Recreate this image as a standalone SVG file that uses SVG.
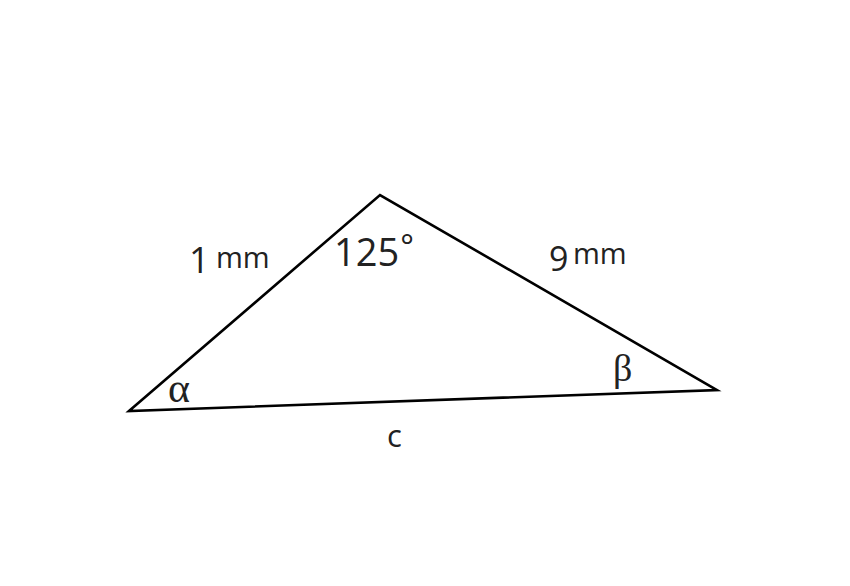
<svg xmlns="http://www.w3.org/2000/svg" width="850" height="586" viewBox="0 0 850 586">
<style>
.edge{fill:none;stroke:#000;stroke-width:2.6;stroke-linejoin:miter}
.t{font-family:"Open Sans","Noto Sans",sans-serif;fill:#222}
.g{font-family:"Liberation Serif","DejaVu Serif",serif;fill:#222}
</style>
<rect width="850" height="586" fill="#fff"/>
<g id="connectors">
<path class="edge" d="M129,411 L380,195 L717,390 Z"/>
</g>
<g id="side-a"><text class="t" x="189" y="273" font-size="36">1<tspan x="216" y="268" font-size="29">mm</tspan></text></g>
<g id="angle-top"><text class="t" x="334" y="266" font-size="38">125<tspan dx="1" dy="-8" font-size="32">°</tspan></text></g>
<g id="side-b"><text class="t" x="549" y="271" font-size="34">9<tspan x="573" y="264" font-size="29">mm</tspan></text></g>
<g id="alpha"><text class="g" x="168" y="402" font-size="42">α</text></g>
<g id="beta"><text class="g" x="613" y="381" font-size="38">β</text></g>
<g id="side-c"><text class="t" x="387" y="447" font-size="31">c</text></g>
</svg>
